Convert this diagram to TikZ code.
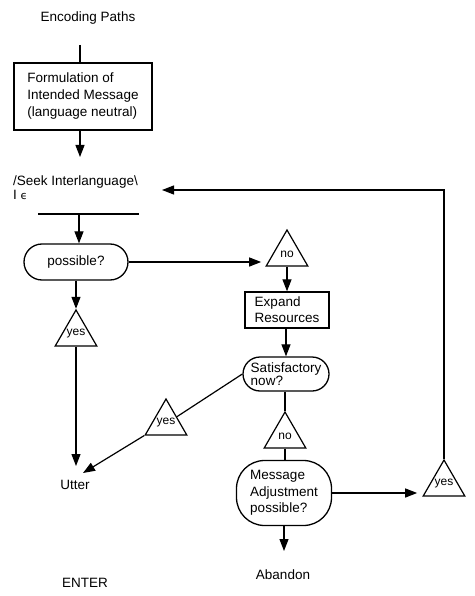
\documentclass[tikz,border=0pt]{standalone}
\usepackage{fontspec}
\setmainfont{Liberation Sans}
\newfontfamily\dejavu{DejaVu Sans}
\usetikzlibrary{shapes.geometric,arrows.meta}
\begin{document}
\begin{tikzpicture}[x=1pt,y=-1pt,
  every node/.style={font=\fontsize{13.5}{16.5}\selectfont},
  conn/.style={line width=1.2pt},
  arr/.style={conn,-{Triangle[length=12pt,width=9pt]}},
  box/.style={draw,line width=1.3pt,align=left,inner sep=2pt},
  tri/.style={draw,line width=1.2pt,regular polygon,regular polygon sides=3,
    minimum size=48pt,inner sep=0pt,font=\fontsize{12}{12}\selectfont},
  plain/.style={inner sep=0pt}
]
\useasboundingbox (0,0) rectangle (474,596);

% texts
\node[plain] (title) at (88,18) {Encoding Paths};
\node[plain,anchor=base west] (seek1) at (13,185) {/Seek Interlanguage\textbackslash};
\node[plain,anchor=base west] (seek2) at (13,199) {I {\dejavu\fontsize{11}{11}\selectfont ϵ}};
\node[plain] (utter) at (75,485) {Utter};
\node[plain] (abandon) at (283,575) {Abandon};
\node[plain] (enter) at (85,583) {ENTER};

% boxes
\node[box,minimum width=138pt,minimum height=67pt,
  font=\fontsize{13.5}{17}\selectfont] (fm) at (83,96.5)
  {Formulation of\\Intended Message\\(language neutral)};
\node[box,rounded corners=18pt,minimum width=104pt,minimum height=36pt] (poss) at (76,262) {possible?};
\node[box,minimum width=84pt,minimum height=36pt,
  font=\fontsize{13.5}{16}\selectfont] (exp) at (287,310) {Expand\\Resources};
\node[box,rounded corners=17pt,minimum width=86pt,minimum height=34pt,
  font=\fontsize{13.5}{13}\selectfont] (sat) at (286,374) {Satisfactory\\now?};
\node[box,rounded corners=28pt,minimum width=95pt,minimum height=65pt,
  font=\fontsize{13.5}{16.5}\selectfont] (msg) at (284,493) {Message\\Adjustment\\possible?};

% triangles
\node[tri] (no1) at (287,254) {\makebox[0pt]{no}};
\node[tri] (yes1) at (76,334) {\makebox[0pt]{yes}};
\node[tri] (yes2) at (166,423) {\makebox[0pt]{yes}};
\node[tri] (no2) at (285,436) {\makebox[0pt]{no}};
\node[tri] (yes3) at (444,484) {\makebox[0pt]{yes}};

% free ends
\coordinate (c0) at (80,45);
\coordinate (c1) at (80,157);
\coordinate (hl1) at (38,214);
\coordinate (hl2) at (139,214);
\coordinate (a1) at (79,214);
\coordinate (ut1) at (83,473);
\coordinate (ut2) at (76,466);
\coordinate (ab) at (284,551);
\coordinate (back) at (162,190);

% connectors
\draw[conn] (c0) -- (c0 |- fm.north);
\draw[arr] (fm.south -| c0) -- (c1);
\draw[conn] (hl1) -- (hl2);
\draw[arr] (a1) -- (a1 |- poss.north);
\draw[arr,shorten >=4pt] (poss.east) -- (no1.corner 2 |- poss.east);
\draw[arr] (no1.south) -- (no1.south |- exp.north);
\draw[arr] (exp.south -| sat.north) -- (sat.north);
\draw[conn] (sat.south -| no2.north) -- (no2.north);
\draw[conn] (no2.south) -- (no2.south |- msg.north);
\draw[arr] (msg.south) -- (ab);
\draw[arr,shorten >=5pt] (msg.east) -- (yes3.corner 2 |- msg.east);
\draw[arr] (yes3.north) |- (back);
\draw[conn] (sat.west) -- (yes2.side 3);
\draw[arr] (yes2.corner 2) -- (ut1);
\draw[arr] (poss.south) -- (yes1.north);
\draw[arr] (yes1.south) -- (ut2);
\end{tikzpicture}
\end{document}
